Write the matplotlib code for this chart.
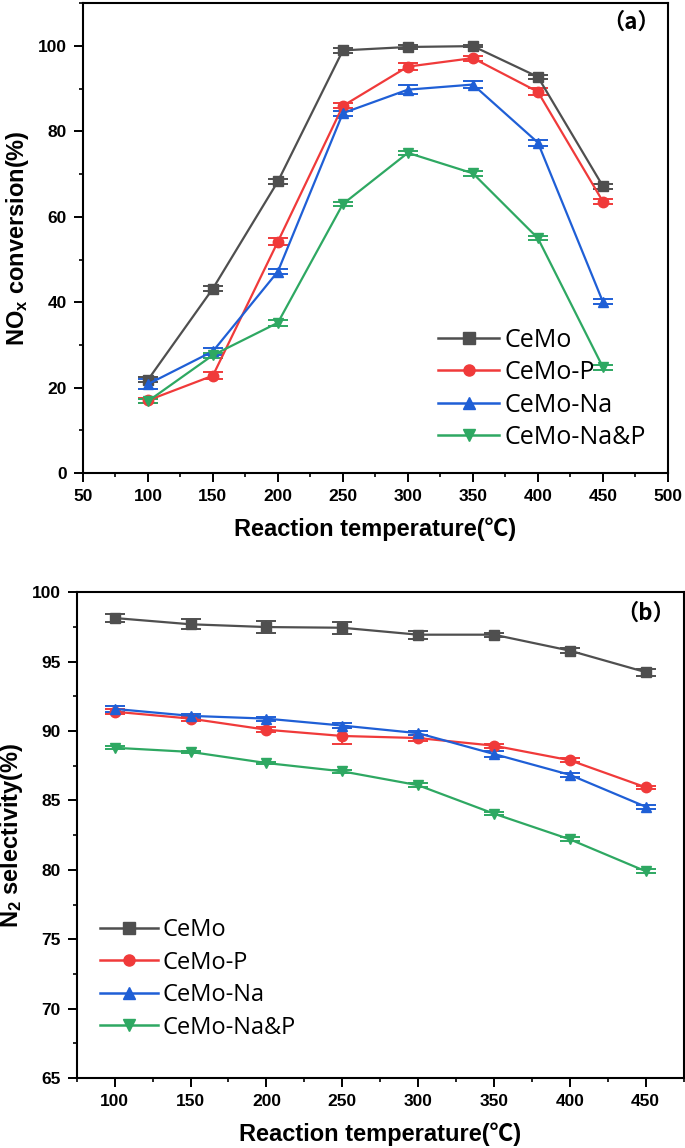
import matplotlib
matplotlib.use("Agg")
import matplotlib.pyplot as plt
from matplotlib.ticker import MultipleLocator
from matplotlib.lines import Line2D

temps = [100, 150, 200, 250, 300, 350, 400, 450]
series = ["CeMo", "CeMo-P", "CeMo-Na", "CeMo-Na&P"]

nox_cemo = [21.8, 43.2, 68.3, 99.0, 99.8, 100.0, 92.8, 67.2]
nox_cemo_p = [17.0, 22.8, 54.2, 86.0, 95.2, 97.2, 89.3, 63.6]
nox_cemo_na = [20.8, 28.5, 47.2, 84.3, 89.8, 91.0, 77.4, 40.1]
nox_cemo_nap = [16.8, 27.6, 35.2, 63.0, 75.0, 70.2, 55.0, 24.8]
nox_err_cemo = [0.6, 0.6, 0.6, 0.5, 0.4, 0.3, 0.5, 0.6]
nox_err_cemo_p = [0.5, 0.8, 0.8, 0.6, 0.8, 0.6, 0.8, 0.7]
nox_err_cemo_na = [1.2, 0.8, 0.6, 0.6, 1.0, 0.8, 0.7, 0.6]
nox_err_cemo_nap = [0.5, 0.6, 0.7, 0.5, 0.5, 0.6, 0.5, 0.6]

sel_cemo = [98.15, 97.7, 97.5, 97.45, 96.95, 96.95, 95.8, 94.25]
sel_cemo_p = [91.4, 90.9, 90.1, 89.65, 89.5, 88.95, 87.9, 85.95]
sel_cemo_na = [91.6, 91.1, 90.9, 90.4, 89.85, 88.35, 86.85, 84.55]
sel_cemo_nap = [88.8, 88.5, 87.7, 87.1, 86.1, 84.05, 82.2, 79.9]
sel_err_cemo = [0.3, 0.35, 0.45, 0.45, 0.3, 0.15, 0.2, 0.25]
sel_err_cemo_p = [0.2, 0.15, 0.2, 0.55, 0.2, 0.15, 0.15, 0.1]
sel_err_cemo_na = [0.2, 0.15, 0.15, 0.15, 0.15, 0.2, 0.15, 0.15]
sel_err_cemo_nap = [0.1, 0.1, 0.1, 0.1, 0.15, 0.1, 0.15, 0.15]

colors = ["#4f4f4f", "#f03a3a", "#1f5fd6", "#2ea862"]
markers = ["s", "o", "^", "v"]

plt.rcParams['font.family'] = ['Liberation Sans', 'Noto Sans CJK SC', 'DejaVu Sans']
plt.rcParams['mathtext.fontset'] = 'custom'
plt.rcParams['mathtext.rm'] = 'Liberation Sans:bold'
plt.rcParams['mathtext.bf'] = 'Liberation Sans:bold'
plt.rcParams['mathtext.it'] = 'Liberation Sans:bold'

fig = plt.figure(figsize=(6.85, 11.48), dpi=100)
ax1 = fig.add_axes([0.121, 0.588, 0.854, 0.409])
ax2 = fig.add_axes([0.112, 0.061, 0.886, 0.423])


def draw(ax, ys, errs):
    for y, e, c, m in zip(ys, errs, colors, markers):
        ax.errorbar(temps, y, yerr=e, color=c, marker=m, markersize=7.5,
                    linewidth=1.6, capsize=7, capthick=1.4, elinewidth=1.4)
    for s in ax.spines.values():
        s.set_linewidth(1.5)
    ax.tick_params(which='major', direction='out', length=6.5, width=1.4,
                   labelsize=12.5, pad=5)
    ax.tick_params(which='minor', direction='out', length=3, width=1.2)


def legend(ax, fs, x, y, spacing, hl):
    handles = [Line2D([], [], color=c, marker=m, markersize=8, linewidth=1.8)
               for c, m in zip(colors, markers)]
    ax.legend(handles, series, loc='center left', bbox_to_anchor=(x, y),
              frameon=False, borderpad=0, borderaxespad=0,
              prop={'family': ['Open Sans', 'DejaVu Sans'], 'size': fs},
              handlelength=hl, handletextpad=0.22, labelspacing=spacing)


draw(ax1, [nox_cemo, nox_cemo_p, nox_cemo_na, nox_cemo_nap],
     [nox_err_cemo, nox_err_cemo_p, nox_err_cemo_na, nox_err_cemo_nap])
ax1.set_xlim(50, 500)
ax1.set_ylim(0, 110)
ax1.xaxis.set_major_locator(MultipleLocator(50))
ax1.xaxis.set_minor_locator(MultipleLocator(25))
ax1.yaxis.set_major_locator(MultipleLocator(20))
ax1.yaxis.set_minor_locator(MultipleLocator(10))
for t in ax1.get_xticklabels() + ax1.get_yticklabels():
    t.set_fontweight('bold')
ax1.set_xlabel('Reaction temperature(℃)', fontsize=17, fontweight='bold', labelpad=10)
ax1.set_ylabel('NO$_\\mathbf{x}$ conversion(%)', fontsize=17, fontweight='bold', labelpad=5)
ax1.text(0.937, 0.96, '（a）', transform=ax1.transAxes, ha='center', va='center',
         fontsize=16, fontweight='bold', family=['Noto Sans CJK SC'])
legend(ax1, 18, 0.607, 0.179, 0.3, 2.45)

draw(ax2, [sel_cemo, sel_cemo_p, sel_cemo_na, sel_cemo_nap],
     [sel_err_cemo, sel_err_cemo_p, sel_err_cemo_na, sel_err_cemo_nap])
ax2.set_xlim(75, 475)
ax2.set_ylim(65, 100)
ax2.xaxis.set_major_locator(MultipleLocator(50))
ax2.xaxis.set_minor_locator(MultipleLocator(25))
ax2.yaxis.set_major_locator(MultipleLocator(5))
ax2.yaxis.set_minor_locator(MultipleLocator(2.5))
for t in ax2.get_xticklabels() + ax2.get_yticklabels():
    t.set_fontweight('bold')
ax2.set_xlabel('Reaction temperature(℃)', fontsize=17, fontweight='bold', labelpad=10)
ax2.set_ylabel('N$_\\mathbf{2}$ selectivity(%)', fontsize=17, fontweight='bold', labelpad=5)
ax2.text(0.937, 0.957, '（b）', transform=ax2.transAxes, ha='center', va='center',
         fontsize=16, fontweight='bold', family=['Noto Sans CJK SC'])
legend(ax2, 17, 0.038, 0.204, 0.36, 2.45)

fig.savefig('out.png', dpi=100)
